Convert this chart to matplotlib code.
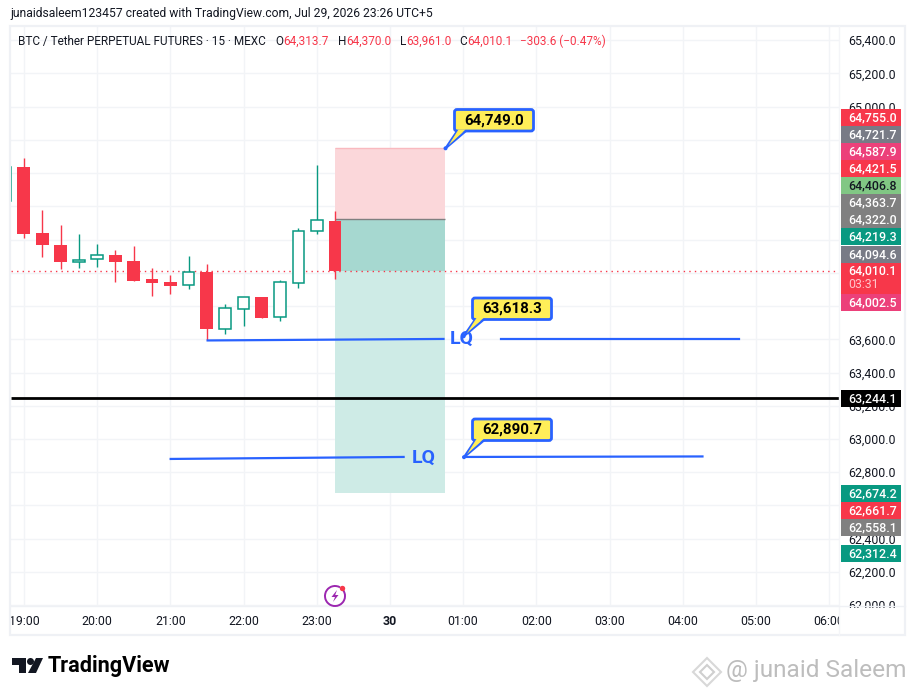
import matplotlib
matplotlib.use("Agg")
import matplotlib.pyplot as plt
from matplotlib.patches import Rectangle, FancyBboxPatch, Polygon, Circle, Arc

plt.rcParams['font.family'] = ['Roboto', 'DejaVu Sans']

# candles, first one is cut by the left edge of the pane
bars = list(range(-1, 18))
opens = [64434, 64637, 64239, 64167, 64065, 64081, 64107, 64071, 63963, 63945, 63925, 64005, 63664, 63784, 63854, 63736, 63941, 64250, 64313.7]
closes = [64637, 64233, 64167, 64065, 64077, 64105, 64065, 63951, 63939, 63921, 64005, 63662, 63786, 63852, 63728, 63943, 64250, 64316, 64010.1]
highs = [64637, 64691, 64378, 64288, 64233, 64173, 64137, 64161, 64029, 63987, 64101, 64053, 63812, 63852, 63854, 63957, 64270, 64649, 64370]
lows = [64434, 64209, 64095, 64023, 64029, 64035, 63945, 63951, 63860, 63872, 63902, 63596, 63632, 63680, 63728, 63710, 63909, 64233, 63961]

price_ticks = [62000 + 200 * i for i in range(18)]
# these labels sit fully under the price tags
covered_ticks = [62600, 63800, 64000, 64200, 64400, 64600, 64800]
hour_bars = [4 * i for i in range(12)]
hour_labels = ["19:00", "20:00", "21:00", "22:00", "23:00", "30", "01:00", "02:00", "03:00", "04:00", "05:00", "06:00"]

# long position tool
pos_start, pos_end = 17, 23
pos_stop, pos_entry, pos_target = 64749.0, 64322.0, 62674.2
last_price = 64010.1
black_level = 63244.1

# blue lines (bar from, bar to, price from, price to)
line_x0 = [10.04, 26.05, 8.02, 24.19]
line_x1 = [22.93, 39.05, 20.75, 37.08]
line_y0 = [63593, 63602, 62880, 62892]
line_y1 = [63602, 63602, 62892, 62895]
lq_bars = [23.9, 21.84]
lq_prices = [63602, 62887]

# price notes
note_bars = [23.04, 24.03, 24.05]
note_prices = [64749.0, 63618.3, 62890.7]
note_labels = ["64,749.0", "63,618.3", "62,890.7"]

# tags on the price scale
tag_labels = ["64,755.0", "64,721.7", "64,587.9", "64,421.5", "64,406.8", "64,363.7", "64,322.0", "64,219.3", "64,094.6",
              "64,002.5", "63,244.1", "62,674.2", "62,661.7", "62,558.1", "62,312.4"]
tag_colors = ["#F7374A", "#787B86", "#EC407A", "#F7374A", "#81C784", "#808080", "#808080", "#089981", "#787B86",
              "#EC407A", "#000000", "#089981", "#F7374A", "#808080", "#089981"]
tag_text = ["white", "white", "white", "white", "#131722", "white", "white", "white", "white",
            "white", "white", "white", "white", "white", "white"]
tag_tops = [109, 125.8, 143, 159.8, 177, 194, 211, 227.8, 246, 294, 390, 485, 502, 519, 545]

RED = "#F7374A"
GREEN = "#089981"
BLUE = "#2962FF"
TEXT = "#131722"
GRID = "#F2F4F7"

X0, BAR_W = 23.9, 18.3
Y0, PX_PER_USD = 605.2, 0.1662
LEFT, RIGHT, TOP, BOTTOM = 10.5, 839, 27, 605.5


def bar_px(b):
    return X0 + BAR_W * b


def price_px(p):
    return Y0 - (p - 62000) * PX_PER_USD


fig = plt.figure(figsize=(9.16, 6.96), dpi=100, facecolor="white")
ax = fig.add_axes([LEFT / 916, 1 - BOTTOM / 696, (RIGHT - LEFT) / 916, (BOTTOM - TOP) / 696])
ax.set_xlim((LEFT - X0) / BAR_W, (RIGHT - X0) / BAR_W)
ax.set_ylim(62000 + (Y0 - BOTTOM) / PX_PER_USD, 62000 + (Y0 - TOP) / PX_PER_USD)

ax.set_axisbelow(True)
ax.grid(True, color=GRID, lw=1)
for s in ax.spines.values():
    s.set_visible(False)

ax.yaxis.tick_right()
ax.set_yticks(price_ticks)
ax.set_yticklabels(["" if p in covered_ticks else f"{p:,.1f}" for p in price_ticks])
ax.tick_params(axis="y", length=0, pad=7, labelsize=8.9, labelcolor=TEXT)
ax.set_xticks(hour_bars)
ax.set_xticklabels(hour_labels)
ax.tick_params(axis="x", length=0, pad=7, labelsize=8.9, labelcolor=TEXT)
ax.get_xticklabels()[5].set_fontweight("bold")

# position tool
ax.add_patch(Rectangle((pos_start, pos_entry), pos_end - pos_start, pos_stop - pos_entry, fc="#FBD7DA", ec="none", zorder=1))
ax.add_patch(Rectangle((pos_start, pos_target), pos_end - pos_start, pos_entry - pos_target, fc="#CEEBE6", ec="none", zorder=1))
ax.add_patch(Rectangle((pos_start, last_price), pos_end - pos_start, pos_entry - last_price, fc="#A6D8D0", ec="none", zorder=1.1))
ax.plot([pos_start, pos_end], [pos_stop, pos_stop], color="#F9B9BF", lw=1, zorder=1.2, solid_capstyle="butt")
ax.plot([pos_start, pos_end], [pos_entry, pos_entry], color="#808080", lw=1, zorder=1.2, solid_capstyle="butt")

ax.axhline(last_price, color=RED, lw=1, ls=(0, (1, 3)), zorder=2)

# candles
for b, o, c, h, l in zip(bars, opens, closes, highs, lows):
    if c >= o:
        ax.vlines(b, l, h, color=GREEN, lw=1, zorder=3)
        ax.add_patch(Rectangle((b - 0.32, o), 0.64, c - o, fc="white", ec=GREEN, lw=1.1, zorder=3.1))
    else:
        ax.vlines(b, l, h, color=RED, lw=1, zorder=3)
        ax.add_patch(Rectangle((b - 0.355, c), 0.71, o - c, fc=RED, ec="none", zorder=3.1))

ax.plot([ax.get_xlim()[0], ax.get_xlim()[1]], [black_level, black_level], color="black", lw=2, zorder=4, solid_capstyle="butt")

for x0, x1, y0, y1 in zip(line_x0, line_x1, line_y0, line_y1):
    ax.plot([x0, x1], [y0, y1], color=BLUE, lw=1.6, zorder=4)
for b, p in zip(lq_bars, lq_prices):
    ax.text(b, p, "LQ", color=BLUE, fontsize=14, fontweight="bold", ha="center", va="center", zorder=5)

# everything on top works in pixels of the picture
top = fig.add_axes([0, 0, 1, 1], zorder=10)
top.set_xlim(0, 916)
top.set_ylim(696, 0)
top.axis("off")
top.patch.set_alpha(0)

# frame and cut of the clipped axis labels
top.add_patch(Rectangle((840, 607.5), 64, 27, fc="white", ec="none", zorder=1))
top.add_patch(Rectangle((9.5, 26), 895.5, 609, fc="none", ec="#EFF1F5", lw=1.6, zorder=2))
top.plot([RIGHT, RIGHT], [26, 635], color="#F4F5F8", lw=1, zorder=2)
top.plot([9.5, 905], [BOTTOM, BOTTOM], color="#EFF1F5", lw=1, zorder=2)

# price tags
for lab, col, tc, t in zip(tag_labels, tag_colors, tag_text, tag_tops):
    top.add_patch(Rectangle((841, t), 60, 17, fc=col, ec="none", zorder=3))
    top.text(848.5, t + 8.7, lab, color=tc, fontsize=8.9, fontweight="medium", ha="left", va="center", zorder=4)
top.add_patch(Rectangle((841, 263), 60, 31, fc=RED, ec="none", zorder=3))
top.text(848.5, 271, "64,010.1", color="white", fontsize=8.9, fontweight="medium", ha="left", va="center", zorder=4)
top.text(848.5, 285, "03:31", color="#FFC4C9", fontsize=8.9, ha="left", va="center", zorder=4)

# notes
box_left = [454.5, 472.5, 472.5]
box_top = [109.5, 298, 419]
box_w = [79, 79, 79]
for b, p, lab, bx, by, bw in zip(note_bars, note_prices, note_labels, box_left, box_top, box_w):
    dx, dy = bar_px(b), price_px(p)
    top.add_patch(Polygon([(dx, dy), (bx + 3, by + 21), (bx + 12, by + 21)], closed=True, fc="#FFEE58", ec=BLUE, lw=1.6, zorder=5))
    top.add_patch(FancyBboxPatch((bx, by), bw, 21.5, boxstyle="round,pad=0,rounding_size=2.5", fc="#FFEE58", ec=BLUE, lw=2, zorder=6))
    top.add_patch(Polygon([(dx + 3, dy - 3), (bx + 4, by + 20), (bx + 11, by + 20)], closed=True, fc="#FFEE58", ec="none", zorder=7))
    top.add_patch(Circle((dx, dy), 2, fc=BLUE, ec="none", zorder=8))
    top.text(bx + bw / 2, by + 11, lab, color="black", fontsize=10.8, fontweight="bold", ha="center", va="center", zorder=8)

# header
top.text(10, 14, "junaidsaleem123457 created with TradingView.com, Jul 29, 2026 23:26 UTC+5", color=TEXT, fontsize=8.7, va="center")
top.text(18, 41.5, "BTC / Tether PERPETUAL FUTURES · 15 · MEXC", color=TEXT, fontsize=8.5, va="center")
for x, s in zip([275.5, 338, 400, 459], ["O", "H", "L", "C"]):
    top.text(x, 41.5, s, color=TEXT, fontsize=8.5, va="center")
for x, s in zip([283, 346, 406, 467, 520.5], ["64,313.7", "64,370.0", "63,961.0", "64,010.1", "−303.6 (−0.47%)"]):
    top.text(x, 41.5, s, color=RED, fontsize=8.5, va="center")

# bolt icon
top.add_patch(Arc((335, 596), 20, 20, theta1=-40, theta2=300, color="#9C27B0", lw=1.4, zorder=3))
top.add_patch(Polygon([(337, 590), (331.5, 597), (335, 597), (333, 602), (338.5, 595), (335.2, 595)], closed=True, fc="#9C27B0", ec="none", zorder=3))
top.add_patch(Circle((342.5, 588.5), 2.7, fc=RED, ec="none", zorder=3))

# logo
top.add_patch(Polygon([(12, 658), (26, 658), (26, 673), (19, 673), (19, 665), (12, 665)], closed=True, fc=TEXT, ec="none"))
top.add_patch(Circle((30.5, 661.5), 3.5, fc=TEXT, ec="none"))
top.add_patch(Polygon([(36, 658), (43, 658), (36, 673), (28, 673)], closed=True, fc=TEXT, ec="none"))
top.text(48, 666, "TradingView", color="black", fontsize=15.6, fontweight="bold", va="center")

# watermark
top.text(726, 671, "@ junaid Saleem", color="#BDBDBD", fontsize=17.6, va="center")
top.add_patch(Polygon([(707, 658), (721, 672), (707, 686), (693, 672)], closed=True, fc="none", ec="#D8D8D8", lw=1.5))
top.add_patch(Polygon([(707, 665), (714, 672), (707, 679), (700, 672)], closed=True, fc="none", ec="#CFCFCF", lw=1.5))

fig.savefig("out.png", dpi=100)
